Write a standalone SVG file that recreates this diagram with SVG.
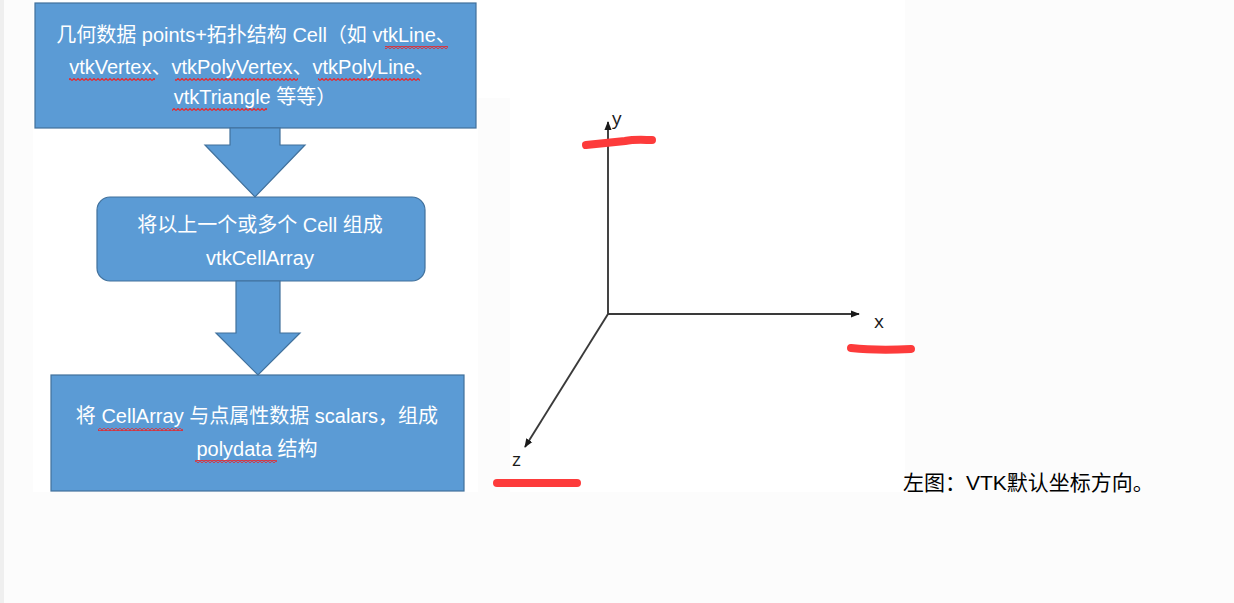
<svg xmlns="http://www.w3.org/2000/svg" width="1234" height="603" viewBox="0 0 1234 603">
  <defs>
    <style>
      .box { fill: #5b9bd5; stroke: #41719c; stroke-width: 1.2; }
      .btxt { font-family: "Liberation Sans", "Noto Sans CJK SC", sans-serif; font-size: 20px; fill: #ffffff; text-anchor: middle; }
      .axis { stroke: #3a3a3a; stroke-width: 1.9; fill: none; }
      .alab { font-family: "Open Sans", "Liberation Sans", sans-serif; font-size: 19px; fill: #1a1a1a; }
      .red { stroke: #fd3b3b; stroke-width: 8; stroke-linecap: round; fill: none; }
      .cap { font-family: "Liberation Sans", "Noto Sans CJK SC", sans-serif; font-size: 21px; fill: #000000; }
    </style>
    <pattern id="squig" x="0" y="0" width="4" height="3" patternUnits="userSpaceOnUse">
      <path d="M0,2.5 L2,0.5 L4,2.5" stroke="#e8262a" stroke-width="1.2" fill="none"/>
    </pattern>
    <marker id="ah" viewBox="0 0 10 10" refX="9" refY="5" markerWidth="9" markerHeight="9" orient="auto" markerUnits="userSpaceOnUse">
      <path d="M0,1 L10,5 L0,9 Z" fill="#1a1a1a"/>
    </marker>
  </defs>

  <rect x="0" y="0" width="1234" height="603" fill="#fcfcfc"/>
  <rect x="0" y="0" width="4" height="603" fill="#efefef"/>
  <rect x="33" y="0" width="872" height="98" fill="#ffffff"/>
  <rect x="33" y="98" width="445" height="394" fill="#ffffff"/>
  <rect x="510" y="98" width="395" height="394" fill="#ffffff"/>

  <g id="node1">
    <rect class="box" x="35" y="3" width="441" height="125"/>
    <text class="btxt" x="256" y="42">几何数据 points+拓扑结构 Cell（如 vtkLine、</text>
    <text class="btxt" x="252" y="74">vtkVertex、vtkPolyVertex、vtkPolyLine、</text>
    <text class="btxt" x="255" y="104">vtkTriangle 等等）</text>
    <rect x="385" y="46" width="63" height="3" fill="url(#squig)"/>
    <rect x="69" y="78" width="86" height="3" fill="url(#squig)"/>
    <rect x="175" y="78" width="123" height="3" fill="url(#squig)"/>
    <rect x="318" y="78" width="102" height="3" fill="url(#squig)"/>
    <rect x="172" y="108" width="95" height="3" fill="url(#squig)"/>
  </g>

  <g id="node2">
    <rect class="box" x="97" y="197" width="328" height="84" rx="13" ry="13"/>
    <text class="btxt" x="260" y="232">将以上一个或多个 Cell 组成</text>
    <text class="btxt" x="260" y="265">vtkCellArray</text>
  </g>

  <g id="node3">
    <rect class="box" x="51" y="375" width="413" height="116"/>
    <text class="btxt" x="257" y="423">将 CellArray 与点属性数据 scalars，组成</text>
    <text class="btxt" x="257" y="456">polydata 结构</text>
    <rect x="98" y="428" width="85" height="3" fill="url(#squig)"/>
    <rect x="195" y="460" width="82" height="3" fill="url(#squig)"/>
  </g>

  <g id="connectors">
    <polygon class="box" points="230,128 280,128 280,145 305,145 255,197 205,145 230,145"/>
    <polygon class="box" points="236,281 280,281 280,333 300,333 258,375 216,333 236,333"/>
    <line class="axis" x1="608" y1="314" x2="608" y2="122" marker-end="url(#ah)"/>
    <line class="axis" x1="608" y1="314" x2="859" y2="314" marker-end="url(#ah)"/>
    <line class="axis" x1="608" y1="314" x2="525" y2="447" marker-end="url(#ah)"/>
  </g>

  <g id="axes-labels">
    <text class="alab" x="612" y="125">y</text>
    <text class="alab" x="874" y="328">x</text>
    <text class="alab" x="512" y="466">z</text>
    <path class="red" d="M586,145 C605,143 615,142 625,141 C635,139 645,140 652,140"/>
    <path class="red" d="M851,348 C870,350 890,350 911,349"/>
    <path class="red" d="M497,483 L577,483"/>
  </g>

  <g id="caption">
    <text class="cap" x="903" y="490">左图：VTK默认坐标方向。</text>
  </g>
</svg>
